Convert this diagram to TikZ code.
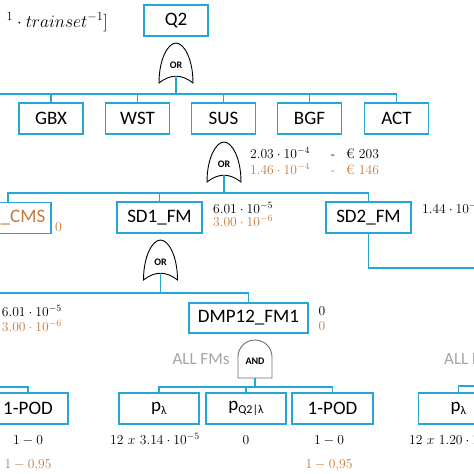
\RequirePackage{fix-cm}
\documentclass[tikz,border=0pt]{standalone}
\usepackage{fontspec}
\newfontfamily\calib{Carlito}
\definecolor{boxblue}{RGB}{38,166,214}
\definecolor{numorange}{RGB}{196,122,60}
\definecolor{lightgraytxt}{RGB}{165,165,165}
\definecolor{andgray}{RGB}{110,110,110}
\newcommand\subtxt[1]{\raisebox{-0.35ex}{\fontsize{12}{12}\selectfont #1}}
\newcommand\ORgate[3]{%
  \draw[orline,shift={(#2,#3)}] (-17,40) .. controls (-17,16) and (-8,0) .. (0,0)
     .. controls (8,0) and (17,16) .. (17,40)
     .. controls (6,31) and (-6,31) .. cycle;
  \node[gatetxt] (#1) at (#2,#3+22) {OR};
  \coordinate (#1b) at (#2,#3+33);
}
\begin{document}
\begin{tikzpicture}[x=1pt,y=-1pt,
  box/.style={draw=boxblue,line width=1.8pt,minimum height=31pt,inner sep=0pt,outer sep=0pt,fill=white,font=\calib\fontsize{19}{22}\selectfont},
  conn/.style={draw=boxblue,line width=1.6pt},
  num/.style={inner sep=0pt,font=\fontsize{13.6}{15}\selectfont},
  onum/.style={num,text=numorange},
  graytxt/.style={inner sep=0pt,text=lightgraytxt,font=\calib\fontsize{17}{19}\selectfont},
  gatetxt/.style={inner sep=0pt,font=\calib\bfseries\fontsize{10}{12}\selectfont},
  orline/.style={draw=black,line width=0.9pt},
  andline/.style={draw=andgray,line width=0.9pt}]
\useasboundingbox (0,0) rectangle (474,474);

% boxes
\node[box,minimum width=64pt] (q2) at (176,20.5) {Q2};
\node[box,minimum width=64pt] (gbx) at (51,118.5) {GBX};
\node[box,minimum width=64pt] (wst) at (137.5,118.5) {WST};
\node[box,minimum width=64pt] (sus) at (223.5,118.5) {SUS};
\node[box,minimum width=64pt] (bgf) at (309.5,118.5) {BGF};
\node[box,minimum width=64pt] (act) at (396.5,118.5) {ACT};
\node[box,minimum width=86pt,text=numorange] (cms) at (8,218) {\phantom{SD1}\_CMS};
\node[box,minimum width=85pt] (sd1) at (159.5,217.5) {SD1\_FM};
\node[box,minimum width=85pt] (sd2) at (368.5,217.5) {SD2\_FM};
\node[box,minimum width=119pt,minimum height=30pt] (dmp) at (248.5,318) {DMP12\_FM1};
\node[box,minimum width=80pt] (podl) at (28,408.5) {1-POD};
\node[box,minimum width=80pt] (pl1) at (159,408.5) {p\subtxt{λ}};
\node[box,minimum width=80pt] (pq) at (246,408.5) {p\subtxt{Q2|λ}};
\node[box,minimum width=81pt] (pod2) at (332.5,408.5) {1-POD};
\node[box,minimum width=80pt] (pl2) at (458.5,408.5) {p\subtxt{λ}};

% gates
\ORgate{g1}{176}{43}
\ORgate{g2}{224}{142}
\ORgate{g3}{160.5}{240}
\draw[andline] (238,378) -- (238,357) .. controls (238,347.6) and (245.4,340) .. (255,340)
   .. controls (264.6,340) and (272,347.6) .. (272,357) -- (272,378) -- cycle;
\node[gatetxt] (andg) at (255,361) {AND};
\coordinate (andb) at (255,378);

% connectors
\coordinate (b1) at (0,94);
\draw[conn] (b1) -| (act.north);
\foreach \n in {gbx,wst,sus,bgf} \draw[conn] (\n.north) -- (\n.north |- b1);
\draw[conn] (g1b) -- (g1b |- b1);

\coordinate (b2) at (0,193);
\draw[conn] (cms.north) -- (cms.north |- b2) -| (sd2.north);
\draw[conn] (sd1.north) -- (sd1.north |- b2);
\draw[conn] (g2b) -- (g2b |- b2);
\coordinate (r2) at (474,268);
\draw[conn] (sd2.south) |- (r2);

\coordinate (b3) at (0,293);
\draw[conn] (b3) -| (dmp.north);
\draw[conn] (g3b) -- (g3b |- b3);

\coordinate (b5) at (0,387);
\draw[conn] (pl1.north) -- (pl1.north |- b5) -| (pod2.north);
\draw[conn] (pq.north) -- (pq.north |- b5);
\draw[conn] (andb) -- (andb |- b5);
\draw[conn] (b5) -| (podl.north);
\coordinate (b6) at (474,386);
\draw[conn] (b6) -| (pl2.north);

% texts
\node[inner sep=0pt,anchor=base east,font=\fontsize{17.5}{20}\selectfont] (unit) at (108,27) {$^{1}\cdot trainset^{-1}]$};
\node[num,anchor=base west] (t1) at (250,158) {$2.03\cdot10^{-4}$};
\node[num,anchor=base] (t1d) at (333,158) {-};
\node[num,anchor=base west] (t1e) at (346,158) {€ 203};
\node[onum,anchor=base west] (t2) at (250,174) {$1.46\cdot10^{-4}$};
\node[onum,anchor=base] (t2d) at (333,174) {-};
\node[onum,anchor=base west] (t2e) at (346,174) {€ 146};

\node[num,anchor=base west] (s1a) at (213,213) {$6.01\cdot10^{-5}$};
\node[onum,anchor=base west] (s1b) at (213,226) {$3.00\cdot10^{-6}$};
\node[onum,anchor=base west] (c0) at (55,231) {0};
\node[num,anchor=base west] (s2a) at (422,213) {$1.44\cdot10^{-4}$};

\node[num,anchor=base east] (l1) at (62,316) {$6.01\cdot10^{-5}$};
\node[onum,anchor=base east] (l2) at (62,331) {$3.00\cdot10^{-6}$};
\node[num,anchor=base] (d0) at (322,315) {0};
\node[onum,anchor=base] (d1) at (322,330) {0};

\node[graytxt,anchor=base] (all1) at (201,364) {ALL FMs};
\node[graytxt,anchor=base west] (all2) at (444,364) {ALL FMs};

\node[num,anchor=base] (e1) at (28,444) {$1-0$};
\node[onum,anchor=base] (e2) at (28,468) {$1-0{,}95$};
\node[num,anchor=base] (e3) at (155,444) {$12\ x\ 3.14\cdot10^{-5}$};
\node[num,anchor=base] (e4) at (246,444) {$0$};
\node[num,anchor=base] (e5) at (329,444) {$1-0$};
\node[onum,anchor=base] (e6) at (329,468) {$1-0{,}95$};
\node[num,anchor=base west] (e7) at (409,444) {$12\ x\ 1.20\cdot10^{-5}$};
\end{tikzpicture}
\end{document}
